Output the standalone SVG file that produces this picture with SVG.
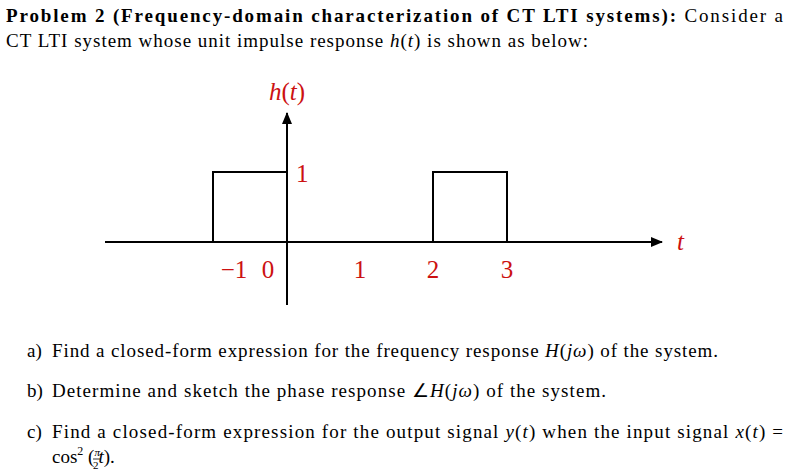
<svg xmlns="http://www.w3.org/2000/svg" width="789" height="473" viewBox="0 0 789 473">
<defs>
<style>
text{font-family:"Liberation Serif",serif;fill:#000}
.t{font-size:19px}
.r{fill:#cc1111;font-size:25px}
.ln{stroke:#000;stroke-width:2;fill:none}
</style>
<marker id="ah" markerWidth="12" markerHeight="10" refX="11" refY="5" orient="auto" markerUnits="userSpaceOnUse"><path d="M0,0 L12,5 L0,10 Z" fill="#000"/></marker>
</defs>
<rect width="789" height="473" fill="#fff"/>
<text class="t" x="6" y="22" textLength="777" lengthAdjust="spacing"><tspan font-weight="bold">Problem 2 (Frequency-domain characterization of CT LTI systems):</tspan> Consider a</text>
<text class="t" x="6" y="47" textLength="582" lengthAdjust="spacing">CT LTI system whose unit impulse response <tspan font-style="italic">h</tspan>(<tspan font-style="italic">t</tspan>) is shown as below:</text>
<g id="plot">
<line class="ln" x1="287" y1="305" x2="287" y2="113" marker-end="url(#ah)"/>
<line class="ln" x1="105" y1="242" x2="662" y2="242" marker-end="url(#ah)"/>
<polyline class="ln" points="213,242 213,172 287,172"/>
<polyline class="ln" points="433,242 433,172 507,172 507,242"/>
<text class="r" x="287" y="100" text-anchor="middle"><tspan font-style="italic">h</tspan>(<tspan font-style="italic">t</tspan>)</text>
<text class="r" x="296" y="182">1</text>
<text class="r" x="677" y="250" font-style="italic">t</text>
<text class="r" x="234" y="278" text-anchor="middle">−1</text>
<text class="r" x="268" y="278" text-anchor="middle">0</text>
<text class="r" x="360" y="278" text-anchor="middle">1</text>
<text class="r" x="433" y="278" text-anchor="middle">2</text>
<text class="r" x="507" y="278" text-anchor="middle">3</text>
</g>
<text class="t" x="27" y="357">a)</text>
<text class="t" x="52" y="357" textLength="666" lengthAdjust="spacing">Find a closed-form expression for the frequency response <tspan font-style="italic">H</tspan>(<tspan font-style="italic">jω</tspan>) of the system.</text>
<text class="t" x="27" y="397">b)</text>
<text class="t" x="52" y="397" textLength="554" lengthAdjust="spacing">Determine and sketch the phase response ∠<tspan font-style="italic">H</tspan>(<tspan font-style="italic">jω</tspan>) of the system.</text>
<text class="t" x="27" y="438">c)</text>
<text class="t" x="52" y="438" textLength="731" lengthAdjust="spacing">Find a closed-form expression for the output signal <tspan font-style="italic">y</tspan>(<tspan font-style="italic">t</tspan>) when the input signal <tspan font-style="italic">x</tspan>(<tspan font-style="italic">t</tspan>) =</text>
<text class="t" x="52" y="463">cos<tspan font-size="12" dy="-8">2</tspan><tspan dy="8"> (</tspan><tspan font-size="11" font-style="italic" dy="-7">π</tspan><tspan font-size="11" dx="-7" dy="13">2</tspan><tspan font-style="italic" dy="-6">t</tspan>).</text>
<line x1="93" y1="459" x2="100" y2="459" stroke="#000" stroke-width="0.8"/>
</svg>
